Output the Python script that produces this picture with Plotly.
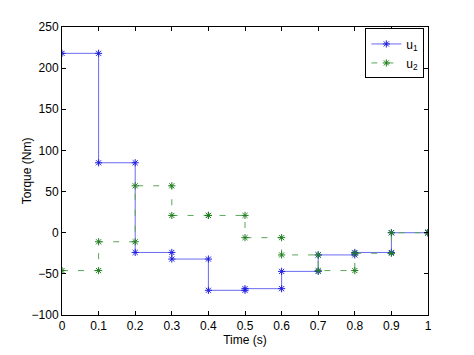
import plotly.graph_objects as go

# Sample times (s) and step values (Nm)
time_s = [0.0, 0.1, 0.2, 0.3, 0.4, 0.5, 0.6, 0.7, 0.8, 0.9, 1.0]
u1 = [218, 85, -24, -32, -70, -68, -47, -27, -24, 0, 0]
u2 = [-46, -11, 57, 21, 21, -6, -27, -46, -25, 0, 0]
x_ticks = [0, 0.1, 0.2, 0.3, 0.4, 0.5, 0.6, 0.7, 0.8, 0.9, 1]
x_tick_text = ["0", "0.1", "0.2", "0.3", "0.4", "0.5", "0.6", "0.7", "0.8", "0.9", "1"]
y_ticks = [-100, -50, 0, 50, 100, 150, 200, 250]


def stairs(t, v):
    xs, ys = [t[0]], [v[0]]
    for i in range(1, len(t)):
        xs += [t[i], t[i]]
        ys += [v[i - 1], v[i]]
    return xs, ys


fig = go.Figure()
x1, y1 = stairs(time_s, u1)
x2, y2 = stairs(time_s, u2)

fig.add_trace(go.Scatter(
    x=x1, y=y1, mode="lines+markers", name="u<sub>1</sub>",
    line=dict(color="#6a6af2", width=1),
    marker=dict(symbol="asterisk-open", size=6, color="#2020e0",
                line=dict(width=1, color="#2020e0")),
))
fig.add_trace(go.Scatter(
    x=x2, y=y2, mode="lines+markers", name="u<sub>2</sub>",
    line=dict(color="#5aa65a", width=1, dash="6px,10px"),
    marker=dict(symbol="asterisk-open", size=6, color="#1f7f1f",
                line=dict(width=1, color="#1f7f1f")),
))

axis_common = dict(
    showgrid=False, zeroline=False, showline=True, linecolor="black",
    linewidth=1, mirror="ticks", ticks="inside", ticklen=4,
    tickcolor="black", tickfont=dict(size=12, color="black"),
    automargin=False,
)

fig.update_layout(
    width=474, height=355,
    margin=dict(l=54, r=54, t=19, b=48),
    paper_bgcolor="white", plot_bgcolor="white",
    font=dict(family="Liberation Sans, Arial, sans-serif", size=12, color="black"),
    xaxis=dict(range=[0, 1], tickvals=x_ticks, ticktext=x_tick_text,
               title=dict(text="Time (s)", standoff=2, font=dict(size=12)),
               **axis_common),
    yaxis=dict(range=[-100, 250], tickvals=y_ticks, **axis_common),
    legend=dict(x=0.99, y=0.995, xanchor="right", yanchor="top",
                bgcolor="white", bordercolor="black", borderwidth=1,
                font=dict(size=12), tracegroupgap=6),
    showlegend=True,
)

fig.add_annotation(
    text="Torque (Nm)", textangle=-90, showarrow=False,
    xref="paper", yref="paper", x=-0.095, y=0.5,
    xanchor="center", yanchor="middle", font=dict(size=12),
)

fig.write_html("out.html")
